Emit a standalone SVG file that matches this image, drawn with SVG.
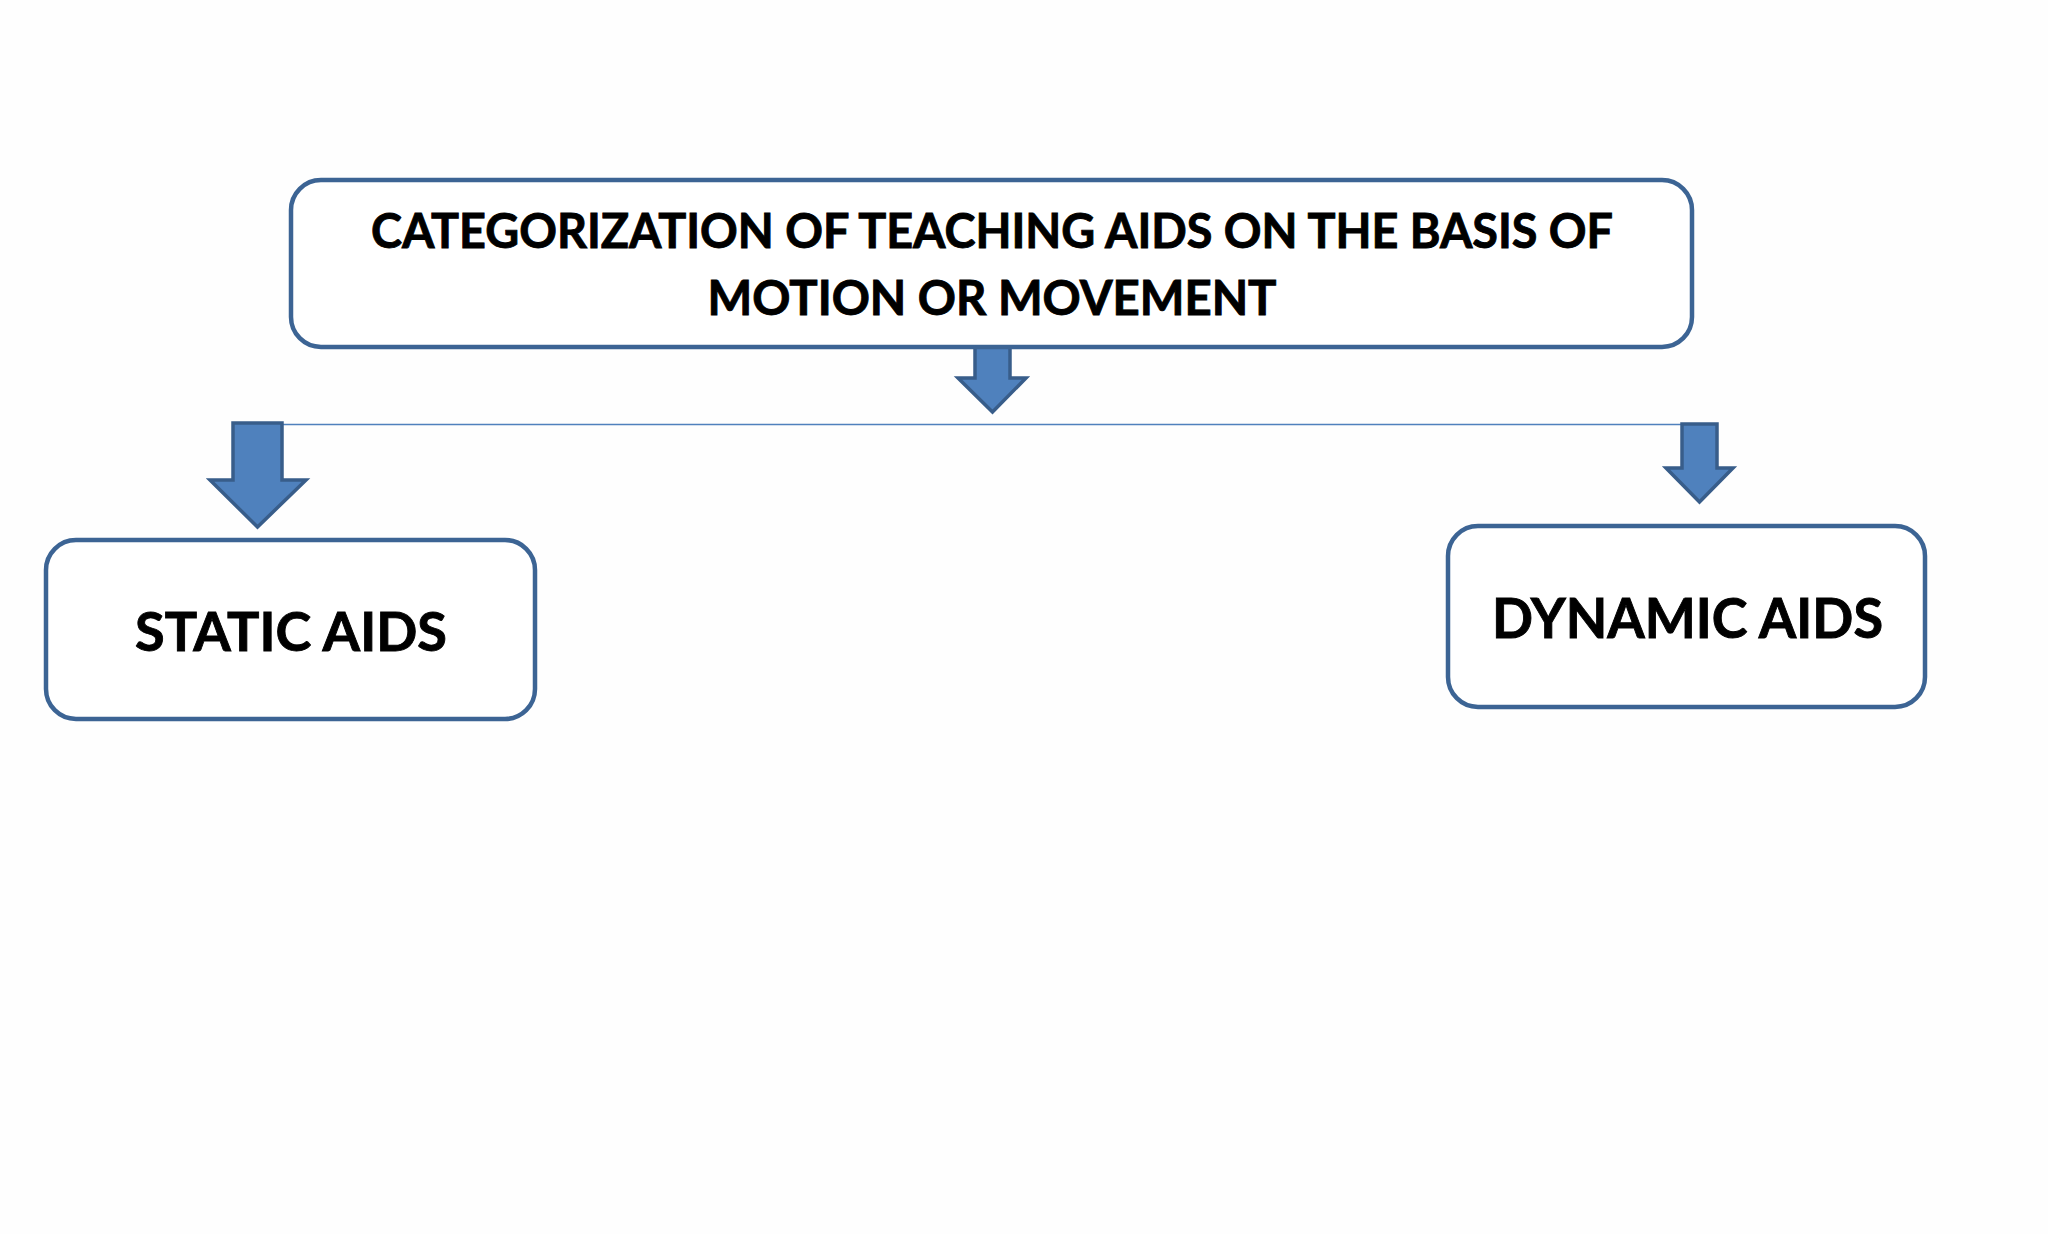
<svg xmlns="http://www.w3.org/2000/svg" width="2048" height="1234" viewBox="0 0 2048 1234">
<style>
.box{fill:#ffffff;stroke:#3c6494;stroke-width:4.5}
.arrow{fill:#4f81bd;stroke:#385d8a;stroke-width:3.5;stroke-linejoin:miter}
.conn{stroke:#4f81bd;stroke-width:1.6;fill:none}
.t{font-family:Lato,"Open Sans","Liberation Sans",sans-serif;font-weight:bold;fill:#000;stroke:#000;stroke-width:0.9;text-anchor:middle}
</style>
<rect width="2048" height="1234" fill="#fefefe"/>
<g id="connectors">
<line class="conn" x1="282" y1="424.5" x2="1684" y2="424.5"/>
<polygon class="arrow" points="975,346 1010,346 1010,378 1026,378 992.5,412 958,378 975,378"/>
<polygon class="arrow" points="233,423 282,423 282,480 306,480 257.5,527 210,480 233,480"/>
<polygon class="arrow" points="1682,424 1717,424 1717,468 1733,468 1699.5,502 1666,468 1682,468"/>
</g>
<g id="node-top">
<rect class="box" x="291" y="180" width="1401" height="167" rx="30"/>
<text class="t" x="992" y="248" font-size="48" textLength="1242" lengthAdjust="spacingAndGlyphs">CATEGORIZATION OF TEACHING AIDS ON THE BASIS OF</text>
<text class="t" x="992" y="315" font-size="48" textLength="569" lengthAdjust="spacingAndGlyphs">MOTION OR MOVEMENT</text>
</g>
<g id="node-static">
<rect class="box" x="46" y="540" width="489" height="179" rx="30"/>
<text class="t" x="291" y="651" font-size="54" textLength="312" lengthAdjust="spacingAndGlyphs">STATIC AIDS</text>
</g>
<g id="node-dynamic">
<rect class="box" x="1448" y="526" width="477" height="181" rx="30"/>
<text class="t" x="1687.5" y="638" font-size="55" textLength="391" lengthAdjust="spacingAndGlyphs">DYNAMIC AIDS</text>
</g>
</svg>
